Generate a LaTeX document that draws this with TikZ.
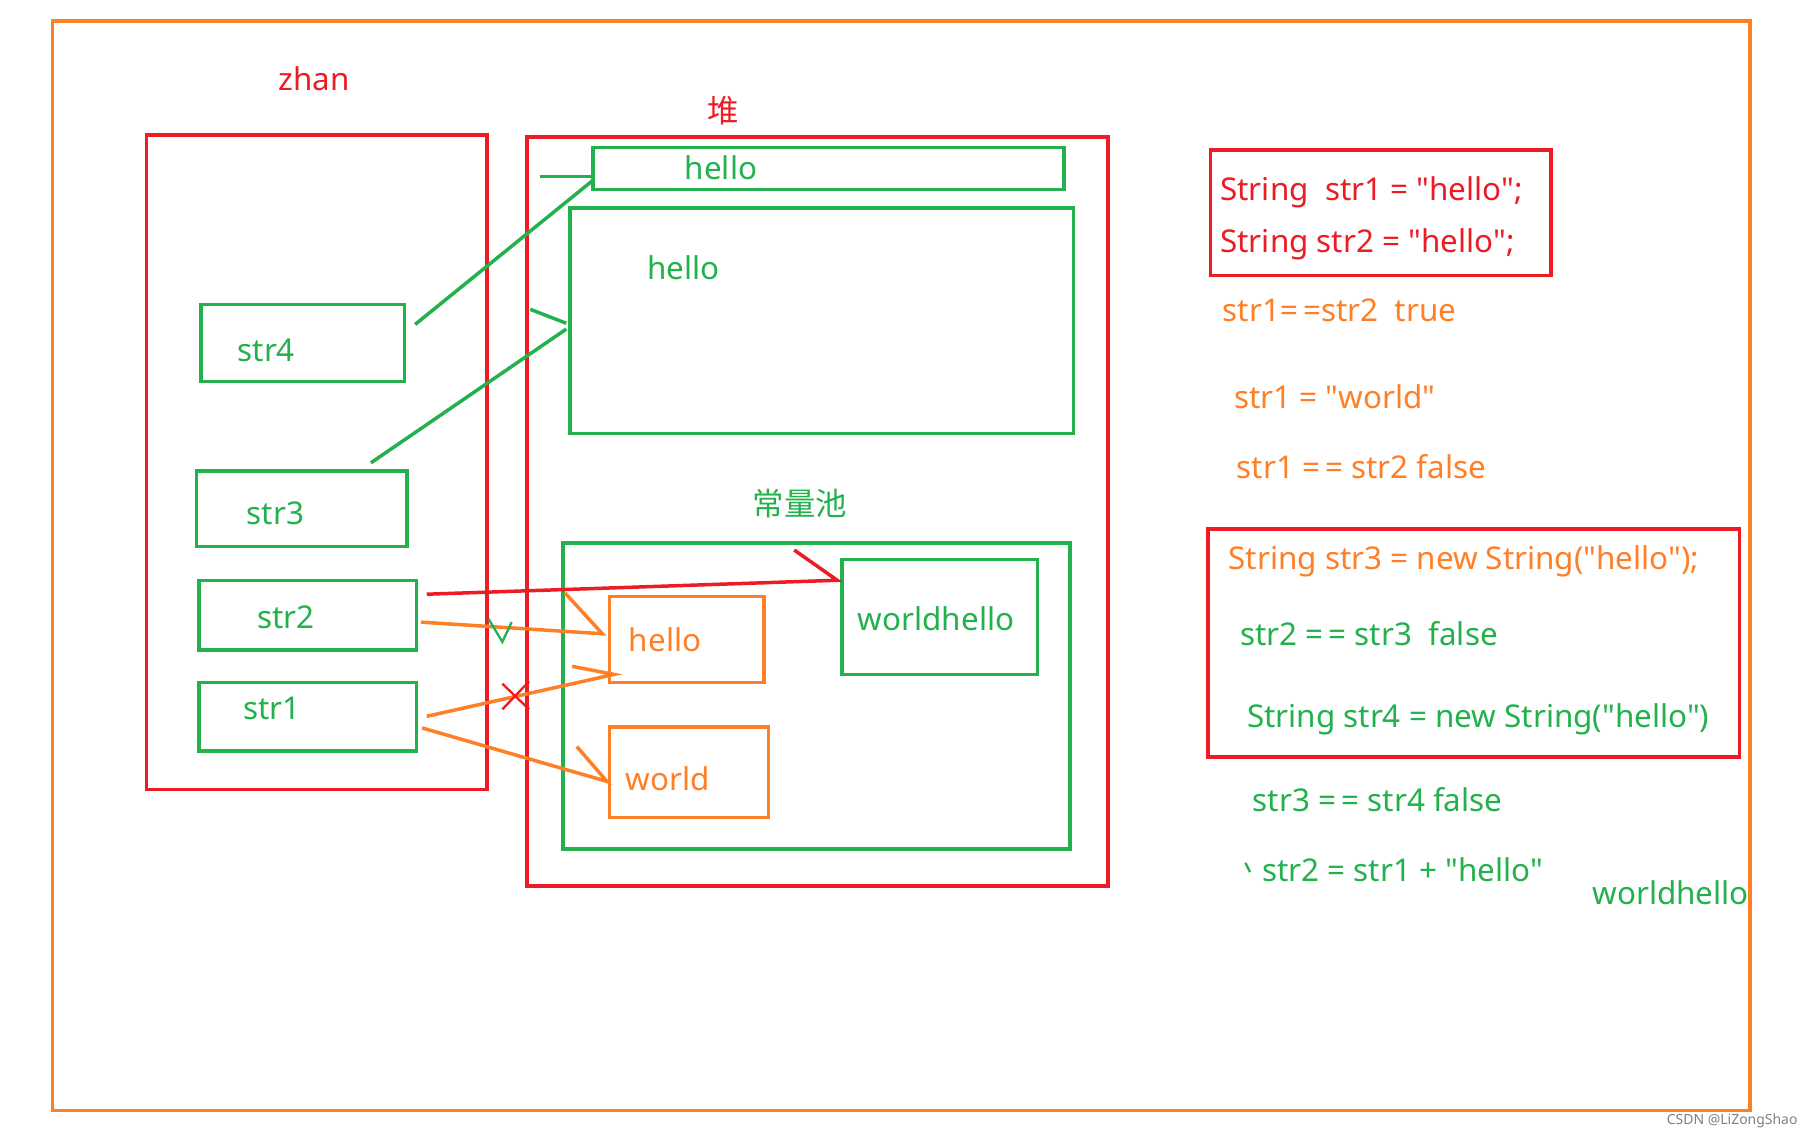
\documentclass[tikz,border=0pt]{standalone}
\usepackage{fontspec}
\setmainfont{Noto Sans}[Ligatures=TeXOff]
\newfontfamily\cjk{Noto Sans CJK SC}
\definecolor{pred}{HTML}{ED1C24}
\definecolor{pgreen}{HTML}{22B14C}
\definecolor{porange}{HTML}{FF7F27}
\newcommand\qq{\symbol{34}}
\newcommand\eqeq{=\,=}
\begin{document}
\begin{tikzpicture}[x=1pt,y=-1pt,line width=3pt,
  txt/.style={inner sep=0pt,font=\fontsize{27}{31}\selectfont},
  ltxt/.style={txt,anchor=west}]
\useasboundingbox (0,0) rectangle (1560,975);
\fill[white] (0,0) rectangle (1560,975);
% frames
\draw[porange] (45,18) rectangle (1505,955);
\node[txt,text=pred] (zhan) at (270,68) {zhan};
\draw[pred] (126,116) rectangle (419,679);
\node[txt,text=pred] (dui) at (622,95) {\cjk 堆};
\draw[pred] (453,118) rectangle (953,762);
% heap
\draw[pgreen] (510,127) rectangle (915,163);
\node[txt,text=pgreen] (h1) at (620,144) {hello};
\draw[pgreen] (490,179) rectangle (923,373);
\node[txt,text=pgreen] (h2) at (588,230) {hello};
% stack
\draw[pgreen] (173,262) rectangle (348,328);
\node[txt,text=pgreen] (s4) at (229,301) {str4};
\draw[pgreen] (169,405) rectangle (350,470);
\node[txt,text=pgreen] (s3) at (237,441) {str3};
\draw[pgreen] (171,499) rectangle (358,559);
\node[txt,text=pgreen] (s2) at (246,531) {str2};
\draw[pgreen] (171,587) rectangle (358,646);
\node[txt,text=pgreen] (s1) at (234,609) {str1};
% constant pool
\node[txt,text=pgreen] (cp) at (688,433) {\cjk 常量池};
\draw[pgreen] (484,467) rectangle (920,730);
\draw[pgreen] (724,481) rectangle (892,580);
\node[txt,text=pgreen] (wh) at (805,532) {worldhello};
\draw[porange] (524,513) rectangle (657,587);
\node[txt,text=porange] (ch) at (572,550) {hello};
\draw[porange] (524,625) rectangle (661,703);
\node[txt,text=porange] (cw) at (574,670) {world};
% connectors
\draw[pgreen] (357,279) -- (510,155);
\draw[pgreen] (464,152) -- (510,152);
\draw[pgreen] (319,398) -- (487,283);
\draw[pgreen] (456,266) -- (487,278);
\draw[pred] (367,511) -- (720,499) -- (683,473);
\draw[porange] (362,535) -- (518,545) -- (486,510);
\draw[porange] (367,616) -- (528,580) -- (492,573);
\draw[porange] (363,626) -- (522,672) -- (496,642);
\draw[pred,line width=2pt] (432,588) -- (455,610) (455,586) -- (432,610);
\draw[pgreen,line width=2pt] (420,532) -- (432,552) -- (440,535);
% right texts
\draw[pred] (1041,129) rectangle (1334,237);
\node[ltxt,text=pred] (t1) at (1048,165) {String\ \ str1 = \qq hello\qq;};
\node[ltxt,text=pred] (t2) at (1048,210) {String str2 = \qq hello\qq;};
\node[ltxt,text=porange] (t3) at (1050,267) {str1\eqeq str2\ \ true};
\node[ltxt,text=porange] (t4) at (1060,341) {str1 = \qq world\qq};
\node[ltxt,text=porange] (t5) at (1062,401) {str1 \eqeq\ str2 false};
\draw[pred] (1039,455) rectangle (1496,651);
\node[ltxt,text=porange] (t6) at (1055,483) {String str3 = new String(\qq hello\qq);};
\node[ltxt,text=pgreen] (t7) at (1065,545) {str2 \eqeq\ str3\ \ false};
\node[ltxt,text=pgreen] (t8) at (1071,619) {String str4 = new String(\qq hello\qq)};
\node[ltxt,text=pgreen] (t9) at (1076,688) {str3 \eqeq\ str4 false};
\node[ltxt,text=pgreen] (t10) at (1084,748) {str2 = str1 + \qq hello\qq};
\draw[pgreen,line width=2pt] (1071,742) -- (1075,750);
\node[ltxt,text=pgreen] (t11) at (1368,768) {worldhello};
\node[ltxt,text=gray,font=\fontsize{12}{14}\selectfont] (csdn) at (1432,964) {CSDN @LiZongShao};
\end{tikzpicture}
\end{document}
